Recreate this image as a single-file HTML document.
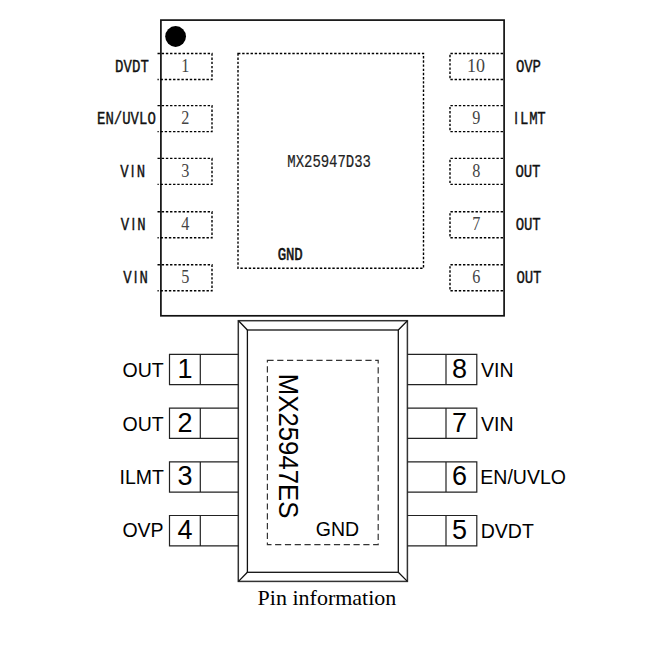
<!DOCTYPE html>
<html><head><meta charset="utf-8"><style>
html,body{margin:0;padding:0;background:#fff;width:646px;height:646px;overflow:hidden}
svg{display:block}
.tn{font-family:"Liberation Serif",serif;font-size:18px;fill:#444;text-anchor:middle}
.tl,.tli{font-family:"Liberation Mono",monospace;font-size:17.5px;fill:#111;stroke:#111;stroke-width:0.4px;text-anchor:middle}
.tli{font-family:"Liberation Sans",sans-serif;font-size:16.5px}
.tb{font-family:"Liberation Mono",monospace;font-size:17.5px;fill:#111;stroke:#111;stroke-width:0.6px;text-anchor:middle}
.tm{font-family:"Liberation Mono",monospace;font-size:17.5px;fill:#222;stroke:#222;stroke-width:0.2px;text-anchor:middle}
.bn{font-family:"Liberation Sans",sans-serif;font-size:27px;fill:#000;text-anchor:middle}
.bl{font-family:"Liberation Sans",sans-serif;fill:#000}
.cap{font-family:"Liberation Serif",serif;font-size:22px;fill:#000}
</style></head><body>
<svg width="646" height="646" viewBox="0 0 646 646">
<rect x="160.9" y="20.1" width="343.2" height="295.7" fill="none" stroke="#111" stroke-width="1.7"/>
<circle cx="175.6" cy="36.5" r="10.4" fill="#000"/>
<rect x="238" y="53.5" width="185.5" height="214.8" fill="none" stroke="#000" stroke-width="1.4" stroke-dasharray="2.4 1.78"/>
<path d="M157.5 53.5 H212 V79.5 H157.5" fill="none" stroke="#000" stroke-width="1.4" stroke-dasharray="2.4 1.78"/>
<path d="M503 53.5 H450 V79.5 H503" fill="none" stroke="#000" stroke-width="1.4" stroke-dasharray="2.4 1.78"/>
<path d="M157.5 105.6 H212 V131.6 H157.5" fill="none" stroke="#000" stroke-width="1.4" stroke-dasharray="2.4 1.78"/>
<path d="M503 105.6 H450 V131.6 H503" fill="none" stroke="#000" stroke-width="1.4" stroke-dasharray="2.4 1.78"/>
<path d="M157.5 158.4 H212 V184.4 H157.5" fill="none" stroke="#000" stroke-width="1.4" stroke-dasharray="2.4 1.78"/>
<path d="M503 158.4 H450 V184.4 H503" fill="none" stroke="#000" stroke-width="1.4" stroke-dasharray="2.4 1.78"/>
<path d="M157.5 211.8 H212 V237.8 H157.5" fill="none" stroke="#000" stroke-width="1.4" stroke-dasharray="2.4 1.78"/>
<path d="M503 211.8 H450 V237.8 H503" fill="none" stroke="#000" stroke-width="1.4" stroke-dasharray="2.4 1.78"/>
<path d="M157.5 264.8 H212 V290.8 H157.5" fill="none" stroke="#000" stroke-width="1.4" stroke-dasharray="2.4 1.78"/>
<path d="M503 264.8 H450 V290.8 H503" fill="none" stroke="#000" stroke-width="1.4" stroke-dasharray="2.4 1.78"/>
<text transform="translate(185.3 71.7) scale(0.9 1)" class="tn">1</text>
<text transform="translate(476.0 71.7) scale(1.0 1)" class="tn">10</text>
<text transform="translate(185.3 123.8) scale(0.9 1)" class="tn">2</text>
<text transform="translate(476.2 123.8) scale(0.9 1)" class="tn">9</text>
<text transform="translate(185.3 176.6) scale(0.9 1)" class="tn">3</text>
<text transform="translate(476.2 176.6) scale(0.9 1)" class="tn">8</text>
<text transform="translate(185.3 230) scale(0.9 1)" class="tn">4</text>
<text transform="translate(476.2 230) scale(0.9 1)" class="tn">7</text>
<text transform="translate(185.3 283) scale(0.9 1)" class="tn">5</text>
<text transform="translate(476.2 283) scale(0.9 1)" class="tn">6</text>
<text transform="translate(119.25 72.2) scale(0.8 1)" class="tl">D</text>
<text transform="translate(127.75 72.2) scale(0.8 1)" class="tl">V</text>
<text transform="translate(136.25 72.2) scale(0.8 1)" class="tl">D</text>
<text transform="translate(144.75 72.2) scale(0.8 1)" class="tl">T</text>
<text transform="translate(101.2 123.5) scale(0.8 1)" class="tl">E</text>
<text transform="translate(109.6 123.5) scale(0.8 1)" class="tl">N</text>
<text transform="translate(118 123.5) scale(0.8 1)" class="tl">/</text>
<text transform="translate(126.4 123.5) scale(0.8 1)" class="tl">U</text>
<text transform="translate(134.8 123.5) scale(0.8 1)" class="tl">V</text>
<text transform="translate(143.2 123.5) scale(0.8 1)" class="tl">L</text>
<text transform="translate(151.6 123.5) scale(0.8 1)" class="tl">O</text>
<text transform="translate(124.42 176.5) scale(0.8 1)" class="tl">V</text>
<text transform="translate(132.68 176.5) scale(0.8 1)" class="tli">I</text>
<text transform="translate(140.93 176.5) scale(0.8 1)" class="tl">N</text>
<text transform="translate(125.03 229.9) scale(0.8 1)" class="tl">V</text>
<text transform="translate(133.28 229.9) scale(0.8 1)" class="tli">I</text>
<text transform="translate(141.53 229.9) scale(0.8 1)" class="tl">N</text>
<text transform="translate(127.33 282.8) scale(0.8 1)" class="tl">V</text>
<text transform="translate(135.57 282.8) scale(0.8 1)" class="tli">I</text>
<text transform="translate(143.82 282.8) scale(0.8 1)" class="tl">N</text>
<text transform="translate(520.23 71.9) scale(0.8 1)" class="tl">O</text>
<text transform="translate(528.48 71.9) scale(0.8 1)" class="tl">V</text>
<text transform="translate(536.73 71.9) scale(0.8 1)" class="tl">P</text>
<text transform="translate(516.2 123.7) scale(0.8 1)" class="tli">I</text>
<text transform="translate(524.2 123.7) scale(0.8 1)" class="tl">L</text>
<text transform="translate(533.5 123.7) scale(0.8 1)" class="tl">M</text>
<text transform="translate(541.4 123.7) scale(0.8 1)" class="tl">T</text>
<text transform="translate(519.73 176.6) scale(0.8 1)" class="tl">O</text>
<text transform="translate(527.98 176.6) scale(0.8 1)" class="tl">U</text>
<text transform="translate(536.23 176.6) scale(0.8 1)" class="tl">T</text>
<text transform="translate(519.83 229.6) scale(0.8 1)" class="tl">O</text>
<text transform="translate(528.08 229.6) scale(0.8 1)" class="tl">U</text>
<text transform="translate(536.33 229.6) scale(0.8 1)" class="tl">T</text>
<text transform="translate(520.73 282.5) scale(0.8 1)" class="tl">O</text>
<text transform="translate(528.98 282.5) scale(0.8 1)" class="tl">U</text>
<text transform="translate(537.23 282.5) scale(0.8 1)" class="tl">T</text>
<text transform="translate(291.57 167.1) scale(0.8 1)" class="tm">M</text>
<text transform="translate(299.92 167.1) scale(0.8 1)" class="tm">X</text>
<text transform="translate(308.27 167.1) scale(0.8 1)" class="tm">2</text>
<text transform="translate(316.62 167.1) scale(0.8 1)" class="tm">5</text>
<text transform="translate(324.97 167.1) scale(0.8 1)" class="tm">9</text>
<text transform="translate(333.32 167.1) scale(0.8 1)" class="tm">4</text>
<text transform="translate(341.67 167.1) scale(0.8 1)" class="tm">7</text>
<text transform="translate(350.02 167.1) scale(0.8 1)" class="tm">D</text>
<text transform="translate(358.38 167.1) scale(0.8 1)" class="tm">3</text>
<text transform="translate(366.72 167.1) scale(0.8 1)" class="tm">3</text>
<text transform="translate(281.93 259.5) scale(0.8 1)" class="tb">G</text>
<text transform="translate(290.18 259.5) scale(0.8 1)" class="tb">N</text>
<text transform="translate(298.43 259.5) scale(0.8 1)" class="tb">D</text>
<rect x="238.3" y="320.7" width="169.1" height="260.7" fill="none" stroke="#333" stroke-width="1.5"/>
<rect x="247.4" y="330" width="150.9" height="242.3" fill="none" stroke="#111" stroke-width="1.3"/>
<path d="M238.5 320.7 L247.4 330 M407.4 320.7 L398.3 330 M238.5 581.4 L247.4 572.3 M407.4 581.4 L398.3 572.3" stroke="#111" stroke-width="1.3"/>
<rect x="267.4" y="360.4" width="110.8" height="184.3" fill="none" stroke="#333" stroke-width="1.2" stroke-dasharray="6.2 3.6"/>
<path d="M238.5 354.4 H169.5 V384.7 H238.5 M200.3 354.4 V384.7" fill="none" stroke="#222" stroke-width="1.2"/>
<path d="M407.4 354.4 H476.8 V384.7 H407.4 M446 354.4 V384.7" fill="none" stroke="#222" stroke-width="1.2"/>
<text x="185" y="377.8" class="bn">1</text>
<text x="459.5" y="377.8" class="bn">8</text>
<path d="M238.5 408.1 H169.5 V438.4 H238.5 M200.3 408.1 V438.4" fill="none" stroke="#222" stroke-width="1.2"/>
<path d="M407.4 408.1 H476.8 V438.4 H407.4 M446 408.1 V438.4" fill="none" stroke="#222" stroke-width="1.2"/>
<text x="185" y="431.5" class="bn">2</text>
<text x="459.5" y="431.5" class="bn">7</text>
<path d="M238.5 461.8 H169.5 V492.1 H238.5 M200.3 461.8 V492.1" fill="none" stroke="#222" stroke-width="1.2"/>
<path d="M407.4 461.8 H476.8 V492.1 H407.4 M446 461.8 V492.1" fill="none" stroke="#222" stroke-width="1.2"/>
<text x="185" y="485.2" class="bn">3</text>
<text x="459.5" y="485.2" class="bn">6</text>
<path d="M238.5 515.5 H169.5 V545.8 H238.5 M200.3 515.5 V545.8" fill="none" stroke="#222" stroke-width="1.2"/>
<path d="M407.4 515.5 H476.8 V545.8 H407.4 M446 515.5 V545.8" fill="none" stroke="#222" stroke-width="1.2"/>
<text x="185" y="538.9" class="bn">4</text>
<text x="459.5" y="538.9" class="bn">5</text>
<text transform="translate(122.5 377.4) scale(0.93 1)" class="bl" style="font-size:21px">OUT</text>
<text transform="translate(122.5 431) scale(0.93 1)" class="bl" style="font-size:21px">OUT</text>
<text transform="translate(119.5 484) scale(0.93 1)" class="bl" style="font-size:21px">ILMT</text>
<text transform="translate(122.4 537.1) scale(0.93 1)" class="bl" style="font-size:21px">OVP</text>
<text transform="translate(481 376.9) scale(0.93 1)" class="bl" style="font-size:21px">VIN</text>
<text transform="translate(481 430.5) scale(0.93 1)" class="bl" style="font-size:21px">VIN</text>
<text transform="translate(480.3 484) scale(0.93 1)" class="bl" style="font-size:21px">EN/UVLO</text>
<text transform="translate(480.7 537.8) scale(0.93 1)" class="bl" style="font-size:21px">DVDT</text>
<text transform="translate(315.7 536.3) scale(0.93 1)" class="bl" style="font-size:21px">GND</text>
<text transform="translate(278.6 373.8) rotate(90) scale(0.92 1)" class="bl" style="font-size:28px">MX25947ES</text>
<text x="257.6" y="604.8" class="cap">Pin information</text>
</svg>
</body></html>
